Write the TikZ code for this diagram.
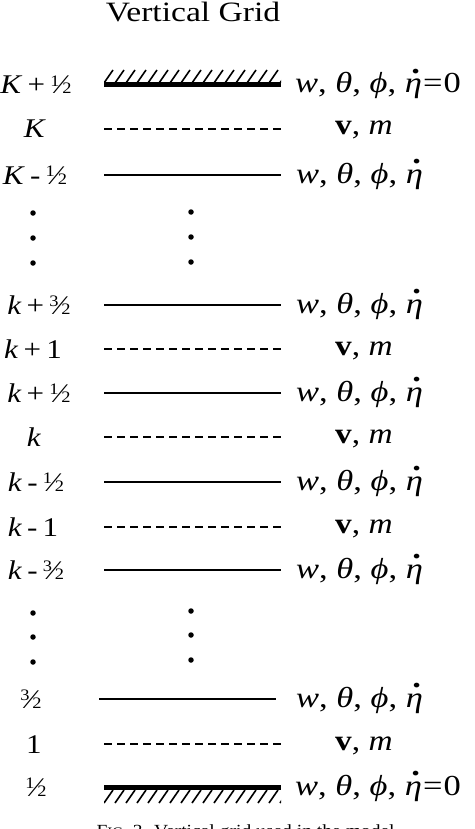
\documentclass[tikz,border=0pt]{standalone}
\usepackage{fontspec}
\setmainfont{Liberation Serif}
\usepackage{graphicx}
\newcommand\hf[2]{\raisebox{7.5pt}{\fontsize{16}{16}\selectfont #1}\kern-1pt⁄\kern-1pt{\fontsize{16}{16}\selectfont #2}}
\newcommand\sx[1]{\scalebox{1.15}[1]{#1}}
\newcommand\sw[1]{\scalebox{1.19}[1]{#1}}
\newcommand\etad{\ooalign{\textit{η}\cr\hidewidth\kern0.14em\raisebox{0.66em}{\textbf{.}}\hidewidth\cr}}
\newcommand\wvars{\textit{w}, \textit{θ}, \textit{ϕ}, \etad}
\newcommand\vvars{\textbf{v}, \textit{m}}
\tikzset{
  lbl/.style={inner sep=0pt, anchor=base, font=\fontsize{27}{27}\selectfont},
  wvar/.style={inner sep=0pt, anchor=base west, font=\fontsize{29}{29}\selectfont},
  vvar/.style={inner sep=0pt, anchor=base west, font=\fontsize{29}{29}\selectfont},
  solidln/.style={line width=2pt},
  dashln/.style={line width=2.2pt, dash pattern=on 8pt off 5pt},
  thickln/.style={line width=5pt},
  hatchln/.style={line width=1.6pt},
  gdot/.style={circle, fill, inner sep=0pt, minimum size=5.5pt},
  ttl/.style={inner sep=0pt, anchor=base, font=\fontsize{28}{28}\selectfont},
  capt/.style={inner sep=0pt, anchor=base, font=\fontsize{17}{17}\selectfont}
}
\begin{document}
\begin{tikzpicture}[x=1pt,y=-1pt]
\useasboundingbox (0,0) rectangle (474,829);

% title
\node[ttl] (title) at (193,22) {\scalebox{1.2}[1]{Vertical Grid}};

% top boundary K+1/2
\coordinate (t1) at (104,85); \coordinate (t2) at (281,85);
\draw[thickln] (t1) -- (t2);
\begin{scope}
  \clip (104,60) rectangle (281,83);
  \foreach \i in {0,...,16} {\draw[hatchln] (104+11*\i,83) -- (113+11*\i,70);}
\end{scope}
\node[lbl] (lKp) at (36,94) {\sx{\textit{K}\,+\,\hf12}};
\node[wvar] (rKp) at (295,93) {\sw{\wvars\kern1pt{=}\kern1pt0}};

% K
\coordinate (a1) at (104,129); \coordinate (a2) at (281,129);
\draw[dashln] (a1) -- (a2);
\node[lbl] (lK) at (35,138) {\sx{\textit{K}}};
\node[vvar] (rK) at (335,135) {\sx{\vvars}};

% K-1/2
\coordinate (b1) at (104,175); \coordinate (b2) at (281,175);
\draw[solidln] (b1) -- (b2);
\node[lbl] (lKm) at (35,184) {\sx{\textit{K}\,-\,\hf12}};
\node[wvar] (rKm) at (296,183) {\sw{\wvars}};

% dots
\node[gdot] (d1) at (33,213) {};
\node[gdot] (d2) at (33,238) {};
\node[gdot] (d3) at (33,263) {};
\node[gdot] (d4) at (191,212) {};
\node[gdot] (d5) at (191,237) {};
\node[gdot] (d6) at (191,262) {};

% k+3/2
\coordinate (c1) at (104,305); \coordinate (c2) at (281,305);
\draw[solidln] (c1) -- (c2);
\node[lbl] (lk3) at (39,314) {\sx{\textit{k}\,+\,\hf32}};
\node[wvar] (rk3) at (296,313) {\sw{\wvars}};

% k+1
\coordinate (e1) at (104,349); \coordinate (e2) at (281,349);
\draw[dashln] (e1) -- (e2);
\node[lbl] (lk1) at (33,358) {\sx{\textit{k}\,+\,1}};
\node[vvar] (rk1) at (335,355) {\sx{\vvars}};

% k+1/2
\coordinate (f1) at (104,393); \coordinate (f2) at (281,393);
\draw[solidln] (f1) -- (f2);
\node[lbl] (lkh) at (39,402) {\sx{\textit{k}\,+\,\hf12}};
\node[wvar] (rkh) at (296,401) {\sw{\wvars}};

% k
\coordinate (g1) at (104,437); \coordinate (g2) at (281,437);
\draw[dashln] (g1) -- (g2);
\node[lbl] (lk) at (34,446) {\sx{\textit{k}}};
\node[vvar] (rk) at (335,443) {\sx{\vvars}};

% k-1/2
\coordinate (h1) at (104,482); \coordinate (h2) at (281,482);
\draw[solidln] (h1) -- (h2);
\node[lbl] (lkmh) at (36,491) {\sx{\textit{k}\,-\,\hf12}};
\node[wvar] (rkmh) at (296,490) {\sw{\wvars}};

% k-1
\coordinate (i1) at (104,527); \coordinate (i2) at (281,527);
\draw[dashln] (i1) -- (i2);
\node[lbl] (lkm1) at (33,536) {\sx{\textit{k}\,-\,1}};
\node[vvar] (rkm1) at (335,533) {\sx{\vvars}};

% k-3/2
\coordinate (j1) at (104,570); \coordinate (j2) at (281,570);
\draw[solidln] (j1) -- (j2);
\node[lbl] (lkm3) at (36,579) {\sx{\textit{k}\,-\,\hf32}};
\node[wvar] (rkm3) at (296,578) {\sw{\wvars}};

% dots
\node[gdot] (d7) at (33,613) {};
\node[gdot] (d8) at (33,637) {};
\node[gdot] (d9) at (33,662) {};
\node[gdot] (d10) at (191,611) {};
\node[gdot] (d11) at (191,635) {};
\node[gdot] (d12) at (191,660) {};

% 3/2
\coordinate (m1) at (99,699); \coordinate (m2) at (276,699);
\draw[solidln] (m1) -- (m2);
\node[lbl] (l32) at (31,708) {\sx{\hf32}};
\node[wvar] (r32) at (296,707) {\sw{\wvars}};

% 1
\coordinate (n1) at (104,744); \coordinate (n2) at (281,744);
\draw[dashln] (n1) -- (n2);
\node[lbl] (l1) at (34,753) {\sx{1}};
\node[vvar] (r1) at (335,750) {\sx{\vvars}};

% 1/2 bottom boundary
\coordinate (p1) at (104,787); \coordinate (p2) at (281,787);
\draw[thickln] (p1) -- (p2);
\begin{scope}
  \clip (104,789) rectangle (281,815);
  \foreach \i in {-1,...,16} {\draw[hatchln] (104+11*\i,803) -- (113+11*\i,790);}
\end{scope}
\node[lbl] (lh) at (36,796) {\sx{\hf12}};
\node[wvar] (rh) at (295,795) {\sw{\wvars\kern1pt{=}\kern1pt0}};

% caption (cut by the page edge)
\node[capt] (cap) at (248,836) {\sx{F{\fontsize{13}{13}\selectfont IG}. 3. Vertical grid used in the model.}};
\end{tikzpicture}
\end{document}
